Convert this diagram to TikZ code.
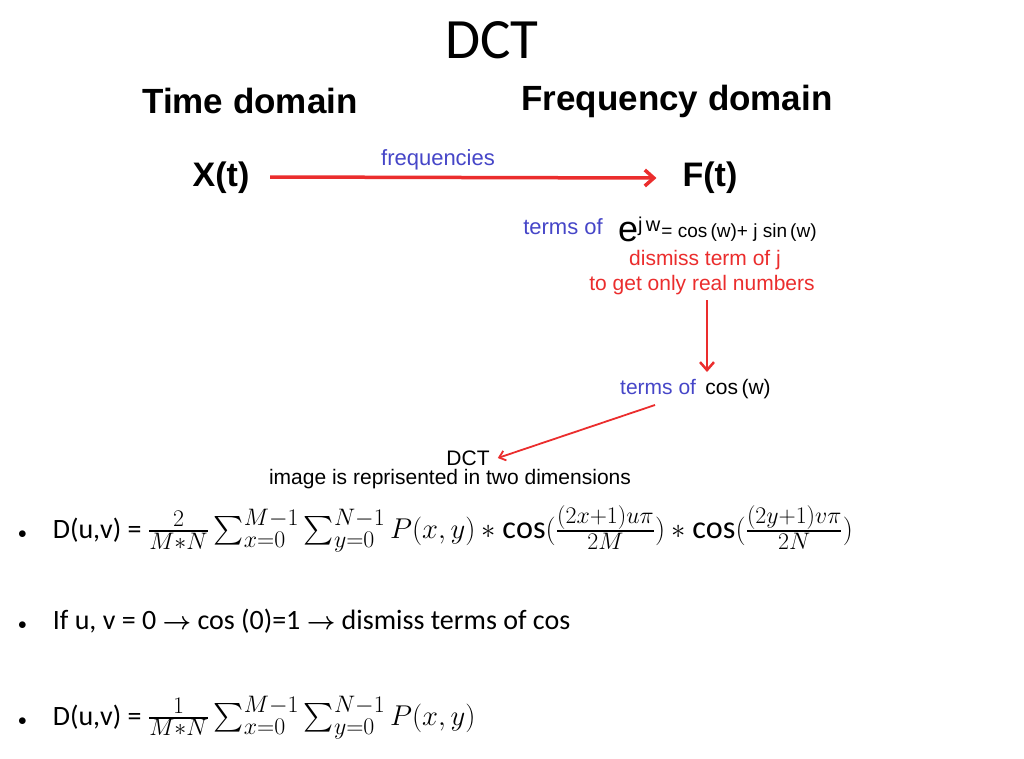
\documentclass[tikz,border=0pt]{standalone}
\usepackage{fontspec}
\usepackage{amsmath}
\usepackage{graphicx}
\setmainfont{Carlito}
\newfontfamily\arial{Liberation Sans}
\usetikzlibrary{arrows.meta}
\definecolor{bl}{RGB}{70,70,200}
\definecolor{rd}{RGB}{235,45,45}
\tikzset{
  redarrow/.style={draw=rd,-{Straight Barb[length=9pt,width=16pt]}},
  ar/.style={font=\arial\fontsize{#1}{#1}\selectfont,inner sep=0pt},
  bul/.style={anchor=west,inner sep=0pt,font=\fontsize{28}{28}\selectfont}
}
\begin{document}
\begin{tikzpicture}[x=1pt,y=-1pt]
\useasboundingbox[fill=white] (0,0) rectangle (1024,758);
\node[inner sep=0pt,font=\fontsize{57}{57}\selectfont] (title) at (492,40) {DCT};
\node[ar=35] (td) at (250,101) {\bfseries Time domain};
\node[ar=35] (fd) at (677,101) {\bfseries Frequency domain};
\node[ar=34] (xt) at (221,178) {\bfseries X(t)};
\node[ar=34] (ft) at (710,178) {\bfseries F(t)};
\draw[redarrow,line width=3.5pt] (270,177) coordinate (a0) -- ([xshift=-26pt]ft.west);
\node[ar=22,text=bl] (fr) at (438,160) {frequencies};
\node[ar=22,text=bl] (to1) at (563,227) {terms of};
\node[ar=19,anchor=west] (eq) at (618,229) {{\fontsize{36}{36}\selectfont e}\raisebox{10pt}{\fontsize{20}{20}\selectfont j\,w}\hspace{1pt}\raisebox{4pt}{= cos\,(w)+ j sin\,(w)}};
\node[ar=21,text=rd] (dis1) at (705,260) {dismiss term of j};
\node[ar=21,text=rd] (dis2) at (702,285) {to get only real numbers};
\node[ar=21,anchor=west] (cw) at (620,389) {\textcolor{bl}{terms of} \,cos\,(w)};
\draw[redarrow,line width=2.5pt,-{Straight Barb[length=8pt,width=14pt]}] (707,300) -- (707,372);
\node[ar=21] (dct) at (468,458) {DCT};
\node[ar=21] (img) at (450,479) {image is reprisented in two dimensions};
\draw[redarrow,line width=1.8pt,-{Straight Barb[length=6pt,width=10pt]}] (655,405) -- ([xshift=8pt]dct.east);
\node[bul] (b1) at (18,529) {{\fontsize{16}{16}\selectfont$\bullet$}\hspace{26pt}D(u,v) = \scalebox{1.15}{$\frac{2}{M*N}\sum_{x=0}^{M-1}\sum_{y=0}^{N-1}P(x,y)*\cos(\frac{(2x+1)u\pi}{2M})*\cos(\frac{(2y+1)v\pi}{2N})$}};
\node[bul] (b2) at (18,621) {{\fontsize{16}{16}\selectfont$\bullet$}\hspace{26pt}If u, v = 0 $\boldsymbol{\rightarrow}$ cos (0)=1 $\boldsymbol{\rightarrow}$ dismiss terms of cos};
\node[bul] (b3) at (18,718) {{\fontsize{16}{16}\selectfont$\bullet$}\hspace{26pt}D(u,v) = \scalebox{1.15}{$\frac{1}{M*N}\sum_{x=0}^{M-1}\sum_{y=0}^{N-1}P(x,y)$}};
\end{tikzpicture}
\end{document}
